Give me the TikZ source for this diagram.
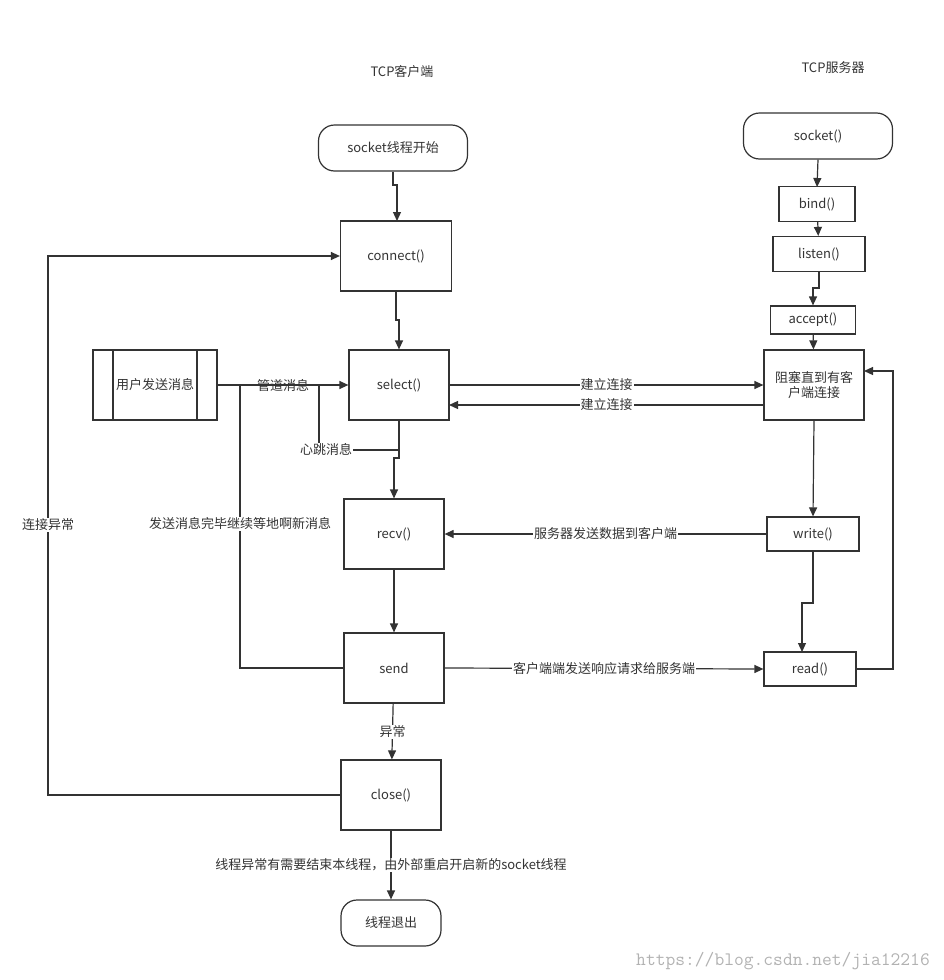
\documentclass[tikz,border=0pt]{standalone}
\usepackage{fontspec}
\setmainfont{Noto Sans CJK SC}
\usetikzlibrary{arrows.meta}
\definecolor{ln}{HTML}{333333}
\begin{document}
\begin{tikzpicture}[x=1pt,y=-1pt,
  every node/.style={font=\fontsize{13}{15}\selectfont,text=ln},
  box/.style={draw=ln,line width=1.2pt,minimum width=#1,inner sep=0pt},
  proc/.style={box=100pt,minimum height=70pt},
  term/.style={box=149pt,minimum height=46pt,rounded corners=16pt},
  lab/.style={fill=white,inner sep=1pt},
  arr/.style={draw=ln,line width=1.2pt,-{Triangle[length=9pt,width=8pt]}},
  ln/.style={draw=ln,line width=1.2pt}]
\useasboundingbox (0,0) rectangle (944,980);
\node at (402,72) {TCP客户端};
\node at (833,68) {TCP服务器};
% client
\node[term] (start) at (393,148) {socket线程开始};
\node[box=111pt,minimum height=70pt] (conn) at (396,256) {connect()};
\node[proc] (sel) at (399,385) {select()};
\node[box=124pt,minimum height=70pt] (user) at (155,385) {用户发送消息};
\draw[ln] (113,350) -- (113,420) (197,350) -- (197,420);
\node[proc] (recv) at (394,534) {recv()};
\node[proc] (send) at (394,668) {send};
\node[proc] (close) at (391,795) {close()};
\node[box=100pt,minimum height=46pt,rounded corners=16pt] (exit) at (391,923) {线程退出};
% server
\node[term] (sock) at (818,136) {socket()};
\node[box=76pt,minimum height=35pt] (bind) at (817,204) {bind()};
\node[box=92pt,minimum height=35pt] (listen) at (819,254) {listen()};
\node[box=85pt,minimum height=28pt] (acc) at (813,320) {accept()};
\node[proc,align=center] (blk) at (814,385) {阻塞直到有客\\户端连接};
\node[box=92pt,minimum height=34pt] (write) at (813,534) {write()};
\node[box=92pt,minimum height=34pt] (read) at (810,669) {read()};
% client connectors
\draw[arr] (start.south) -- (393,185) -- (397,185) -- (397,221);
\draw[arr] (conn.south) -- (396,320) -- (399,320) -- (sel.north);
\draw[arr] (user.east) -- (sel.west) node[pos=0.5,text=ln] {管道消息};
\draw[ln] (240,385) -- (240,668) -- (send.west);
\draw[ln] (319,385) -- (319,450) -- (399,450);
\node[lab] at (326,450) {心跳消息};
\node[lab] at (240,524) {发送消息完毕继续等地啊新消息};
\draw[arr] (sel.south) -- (399,458) -- (394,458) -- (recv.north);
\draw[arr] (recv) -- (send);
\draw[arr] (send) -- (close) node[pos=0.5,lab] {异常};
\draw[arr] (close) -- (exit) node[pos=0.5,lab] {线程异常有需要结束本线程，由外部重启开启新的socket线程};
\draw[arr] (close.west) -- (48,795) -- (48,256) -- (conn.west);
\node[lab] at (48,525) {连接异常};
% between
\draw[arr] (sel.east) -- (blk.west) node[pos=0.5,lab] {建立连接};
\draw[arr] (764,405) -- (449,405) node[pos=0.5,lab] {建立连接};
\draw[arr] (write.west) -- (recv.east) node[pos=0.5,lab] {服务器发送数据到客户端};
\draw[arr] (send.east) -- (read.west) node[pos=0.5,lab] {客户端端发送响应请求给服务端};
% server connectors
\draw[arr] (sock.south) -- (817,187);
\draw[arr] (bind) -- (listen);
\draw[arr] (listen.south) -- (819,288) -- (813,288) -- (acc.north);
\draw[arr] (acc) -- (blk);
\draw[arr] (blk.south) -- (write.north);
\draw[arr] (write.south) -- (813,603) -- (802,603) -- (802,652);
\draw[arr] (read.east) -- (893,669) -- (893,371) -- (864,371);
\node[text=gray!60,font=\fontsize{19}{21}\selectfont\ttfamily] at (783,961) {https://blog.csdn.net/jia12216};
\end{tikzpicture}
\end{document}
